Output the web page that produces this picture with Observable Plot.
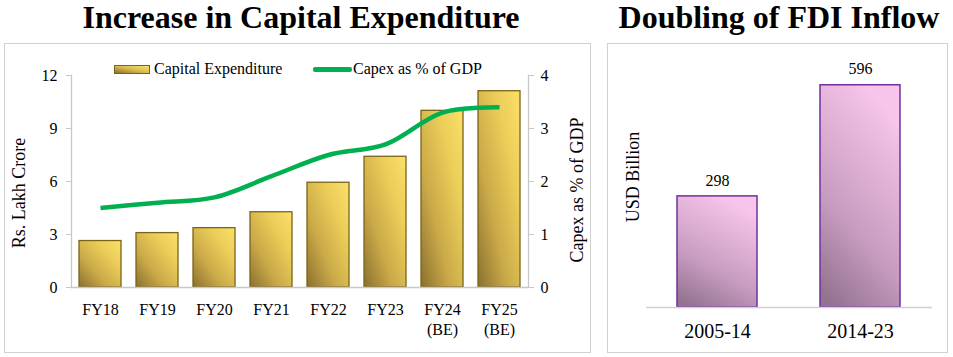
<!DOCTYPE html>
<html><head><meta charset="utf-8">
<script src="https://cdn.jsdelivr.net/npm/d3@7"></script>
<script src="https://cdn.jsdelivr.net/npm/@observablehq/plot@0.6"></script>
<style>
body{margin:0;background:#fff;}
#root{position:relative;width:953px;height:357px;font-family:"Liberation Serif","Times New Roman",serif;color:#000;overflow:hidden;background:#fff;}
.panel{position:absolute;box-sizing:border-box;border:1.5px solid #d0d0d0;}
.title{position:absolute;font-weight:bold;font-size:32px;line-height:32px;white-space:nowrap;transform:translateX(-50%);}
.vlab{position:absolute;font-size:18px;line-height:18px;white-space:nowrap;transform:translate(-50%,-50%) rotate(-90deg);}
.leg{position:absolute;font-size:16px;line-height:16px;white-space:nowrap;}
.holder{position:absolute;}
.holder svg{display:block;max-width:none;}
</style></head>
<body>
<div id="root">
  <div class="panel" style="left:4px;top:43px;width:587px;height:310px;"></div>
  <div class="panel" style="left:607px;top:43px;width:341px;height:310px;"></div>
  <div class="title" style="left:301px;top:1px;">Increase in Capital Expenditure</div>
  <div class="title" style="left:779px;top:1px;">Doubling of FDI Inflow</div>
  <div class="holder" id="leftChart" style="left:0px;top:40px;"></div>
  <div class="holder" id="rightChart" style="left:600px;top:40px;"></div>
  <div class="vlab" style="left:19px;top:193px;">Rs. Lakh Crore</div>
  <div class="vlab" style="left:577px;top:190px;">Capex as % of GDP</div>
  <div class="vlab" style="left:633px;top:177px;">USD Billion</div>
  <div class="leg" style="left:114px;top:65px;width:36px;height:9px;box-sizing:border-box;border:1px solid #7a6418;background:linear-gradient(to top right,#8a7030,#d9bb50,#fbe06c);"></div>
  <div class="leg" style="left:154px;top:61px;">Capital Expenditure</div>
  <div class="leg" style="left:313px;top:67px;width:39px;height:4.5px;background:#00b050;border-radius:2px;"></div>
  <div class="leg" style="left:353px;top:61px;">Capex as % of GDP</div>
</div>
<script>
// ---- data ----
const years = ["FY18", "FY19", "FY20", "FY21", "FY22", "FY23", "FY24\n(BE)", "FY25\n(BE)"];
const capex = [2.63, 3.08, 3.36, 4.26, 5.93, 7.40, 10.0, 11.11];
const capexPctGdp = [1.5, 1.6, 1.7, 2.1, 2.5, 2.7, 3.3, 3.4];
const leftTicks = [0, 3, 6, 9, 12];
const rightTicks = [0, 1, 2, 3, 4];
const fdiPeriods = ["2005-14", "2014-23"];
const fdiValues = [298, 596];

const capexData = years.map((y, i) => ({year: y, capex: capex[i], pct: capexPctGdp[i]}));
const fdiData = fdiPeriods.map((p, i) => ({period: p, value: fdiValues[i]}));
const ratio = leftTicks[leftTicks.length - 1] / rightTicks[rightTicks.length - 1];

const baseStyle = {fontFamily: "'Liberation Serif','Times New Roman',serif", fontSize: "16px", background: "transparent", overflow: "visible", color: "#000"};
const axisGray = "#c8c8c8";

const left = Plot.plot({
  width: 600, height: 317,
  marginTop: 35, marginBottom: 70, marginLeft: 71, marginRight: 72,
  style: baseStyle,
  x: {domain: years, paddingInner: 0.26, paddingOuter: 0.13, label: null},
  y: {domain: [0, 12], label: null},
  marks: [
    Plot.barY(capexData, {x: "year", y: "capex", fill: "url(#goldGrad)", stroke: "#7a6418", strokeWidth: 1.3}),
    Plot.ruleY([0], {stroke: axisGray, strokeWidth: 1.3}),
    Plot.frame({anchor: "left", stroke: axisGray, strokeWidth: 1.3}),
    Plot.frame({anchor: "right", stroke: axisGray, strokeWidth: 1.3}),
    Plot.axisY(leftTicks, {anchor: "left", tickSize: 5, tickPadding: 9, stroke: axisGray, fill: "#000", label: null}),
    Plot.axisY(rightTicks.map(t => t * ratio), {anchor: "right", tickSize: 5, tickPadding: 7, tickFormat: d => String(d / ratio), stroke: axisGray, fill: "#000", label: null}),
    Plot.axisX({tickSize: 0, tickPadding: 13, lineHeight: 1.25, fill: "#000", label: null}),
    Plot.line(capexData, {x: "year", y: d => d.pct * ratio, stroke: "#00b050", strokeWidth: 4.5, curve: "catmull-rom", strokeLinecap: "butt"})
  ]
});

const right = Plot.plot({
  width: 353, height: 317,
  marginTop: 6, marginBottom: 50, marginLeft: 46, marginRight: 21,
  style: baseStyle,
  x: {domain: fdiPeriods, paddingInner: 0.44, paddingOuter: 0.22, label: null},
  y: {domain: [0, 700], axis: null},
  marks: [
    Plot.barY(fdiData, {x: "period", y: "value", fill: "url(#pinkGrad)", stroke: "#7030a0", strokeWidth: 1.5}),
    Plot.ruleY([0], {stroke: "#d0d0d0", strokeWidth: 1.5}),
    Plot.text(fdiData, {x: "period", y: "value", text: d => String(d.value), dy: -16, fontSize: 16, fill: "#000"}),
    Plot.axisX({tickSize: 0, tickPadding: 16, fontSize: 20, fill: "#000", label: null})
  ]
});

d3.select(left).insert("defs", ":first-child").html(
  '<linearGradient id="goldGrad" x1="0" y1="1" x2="1" y2="0">' +
  '<stop offset="0" stop-color="#8a7030"/><stop offset="0.35" stop-color="#caa948"/>' +
  '<stop offset="0.7" stop-color="#ebcd58"/><stop offset="1" stop-color="#fbe06a"/></linearGradient>');
d3.select(right).insert("defs", ":first-child").html(
  '<linearGradient id="pinkGrad" x1="0.15" y1="1" x2="0.55" y2="0">' +
  '<stop offset="0" stop-color="#92728e"/><stop offset="0.4" stop-color="#c79cc0"/>' +
  '<stop offset="1" stop-color="#f6c5e9"/></linearGradient>');

document.getElementById("leftChart").appendChild(left);
document.getElementById("rightChart").appendChild(right);
</script>
</body></html>
